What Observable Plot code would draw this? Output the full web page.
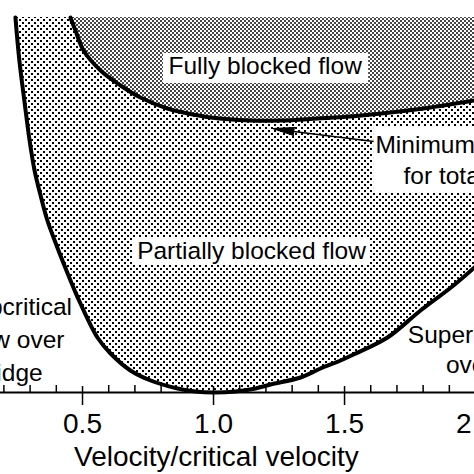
<!DOCTYPE html>
<html><head><meta charset="utf-8">
<script src="https://cdn.jsdelivr.net/npm/d3@7"></script>
<script src="https://cdn.jsdelivr.net/npm/@observablehq/plot@0.6"></script>
<style>html,body{margin:0;padding:0;background:#fff;} svg{display:block;}</style>
</head><body><div id="chart"></div>
<script>
// Lower boundary (onset of partial blocking): velocity ratio vs. height
const lowerX = [0.244, 0.259, 0.278, 0.298, 0.317, 0.340, 0.366, 0.401, 0.431, 0.470, 0.492, 0.557, 0.607, 0.683, 0.760, 0.863, 0.931, 1.000, 1.084, 1.160, 1.218, 1.332, 1.408, 1.485, 1.534, 1.664, 1.790, 1.916, 1.996];
const lowerY = [3.75, 3.32, 2.92, 2.52, 2.22, 1.97, 1.72, 1.47, 1.27, 1.02, 0.89, 0.55, 0.39, 0.22, 0.12, 0.04, 0.01, 0.00, 0.01, 0.04, 0.08, 0.15, 0.24, 0.32, 0.38, 0.55, 0.82, 1.07, 1.25];
// Upper boundary (full blocking)
const upperX = [0.454, 0.473, 0.504, 0.569, 0.645, 0.721, 0.824, 0.885, 0.989, 1.141, 1.256, 1.397, 1.523, 1.676, 1.828, 1.996];
const upperY = [3.75, 3.62, 3.42, 3.22, 3.07, 2.95, 2.84, 2.80, 2.75, 2.72, 2.72, 2.74, 2.76, 2.80, 2.85, 2.92];
const TOP = 3.75;
const majorTicks = [0.5, 1.0, 1.5, 2.0];
const majorLabels = ["0.5", "1.0", "1.5", "2.0"];
const minorTicks = [0.2, 0.3, 0.4, 0.6, 0.7, 0.8, 0.9, 1.1, 1.2, 1.3, 1.4, 1.6, 1.7, 1.8, 1.9];
const xTitle = "Velocity/critical velocity";

const lower = lowerX.map((x, i) => ({x, y: lowerY[i]}));
const upper = upperX.map((x, i) => ({x, y: upperY[i]}));
const majors = majorTicks.map((x, i) => ({x, label: majorLabels[i]}));

const FONT = "'Liberation Sans', Arial, Helvetica, sans-serif";

const svg = Plot.plot({
  width: 474, height: 474,
  marginTop: 0, marginRight: 0, marginBottom: 0, marginLeft: 0,
  style: {background: "#fff", fontFamily: FONT, overflow: "hidden"},
  x: {domain: [0.187, 1.996], axis: null},
  y: {domain: [-0.82, 3.92], axis: null},
  marks: [
    Plot.areaY(lower, {x: "x", y1: "y", y2: TOP, fill: "url(#lightDots)", curve: "catmull-rom"}),
    Plot.areaY(upper, {x: "x", y1: "y", y2: TOP, fill: "url(#denseDots)", curve: "catmull-rom"}),
    Plot.line(lower, {x: "x", y: "y", stroke: "#000", strokeWidth: 4, curve: "catmull-rom"}),
    Plot.line(upper, {x: "x", y: "y", stroke: "#000", strokeWidth: 4, curve: "catmull-rom"}),
    // label boxes
    Plot.rect([{x1: 0.809, x2: 1.592, y1: 3.09, y2: 3.39}], {x1: "x1", x2: "x2", y1: "y1", y2: "y2", fill: "#fff"}),
    Plot.rect([{x1: 0.691, x2: 1.599, y1: 1.27, y2: 1.55}], {x1: "x1", x2: "x2", y1: "y1", y2: "y2", fill: "#fff"}),
    Plot.rect([{x1: 1.611, x2: 2.2, y1: 2.00, y2: 2.65}], {x1: "x1", x2: "x2", y1: "y1", y2: "y2", fill: "#fff"}),
    // arrow
    Plot.link([{x1: 1.611, y1: 2.51, x2: 1.26, y2: 2.625}], {x1: "x1", y1: "y1", x2: "x2", y2: "y2", stroke: "#000", strokeWidth: 1.5}),
    Plot.vector([{x: 1.225, y: 2.64}], {x: "x", y: "y", anchor: "end", shape: "spike", length: 22, r: 4, rotate: -82, fill: "#000", stroke: "#000", strokeWidth: 1}),
    // texts
    Plot.text(["Fully blocked flow"], {x: 1.197, y: 3.19, text: d => d, fontSize: 24.5, textAnchor: "middle", lineAnchor: "bottom", fill: "#000"}),
    Plot.text(["Partially blocked flow"], {x: 1.145, y: 1.34, text: d => d, fontSize: 24.5, textAnchor: "middle", lineAnchor: "bottom", fill: "#000"}),
    Plot.text(["Minimum height"], {x: 1.618, y: 2.40, text: d => d, fontSize: 24.5, textAnchor: "start", lineAnchor: "bottom", fill: "#000"}),
    Plot.text(["for total blocking"], {x: 1.725, y: 2.09, text: d => d, fontSize: 24.5, textAnchor: "start", lineAnchor: "bottom", fill: "#000"}),
    Plot.text(["Subcritical\nflow over\nridge"], {x: 0.244, y: 0.12, text: d => d, fontSize: 24.5, textAnchor: "middle", lineAnchor: "bottom", lineHeight: 1.33, fill: "#000"}),
    Plot.text(["Supercritical flow\nover ridge"], {x: 2.095, y: 0.20, text: d => d, fontSize: 24.5, textAnchor: "middle", lineAnchor: "bottom", lineHeight: 1.22, fill: "#000"}),
    // axis
    Plot.ruleY([0], {stroke: "#000", strokeWidth: 2}),
    Plot.ruleX(minorTicks, {y1: 0, y2: 0.07, stroke: "#000", strokeWidth: 1.5}),
    Plot.ruleX(majorTicks, {y1: 0.06, y2: -0.13, stroke: "#000", strokeWidth: 1.5}),
    Plot.text(majors, {x: "x", y: -0.40, text: "label", fontSize: 28, textAnchor: "middle", lineAnchor: "bottom", fill: "#000"}),
    Plot.text([xTitle], {x: 1.011, y: -0.73, text: d => d, fontSize: 28, textAnchor: "middle", lineAnchor: "bottom", fill: "#000"})
  ]
});

const defs = d3.select(svg).insert("defs", ":first-child");
const light = defs.append("pattern").attr("id", "lightDots").attr("patternUnits", "userSpaceOnUse").attr("width", 6).attr("height", 6);
light.append("rect").attr("width", 6).attr("height", 6).attr("fill", "#fff");
light.append("rect").attr("x", 1).attr("y", 1).attr("width", 2).attr("height", 2).attr("fill", "#000");
light.append("rect").attr("x", 4).attr("y", 4).attr("width", 2).attr("height", 2).attr("fill", "#000");
const dense = defs.append("pattern").attr("id", "denseDots").attr("patternUnits", "userSpaceOnUse").attr("width", 4).attr("height", 4);
dense.append("rect").attr("width", 4).attr("height", 4).attr("fill", "#fff");
dense.append("rect").attr("x", 0.15).attr("y", 0.15).attr("width", 1.7).attr("height", 1.7).attr("fill", "#000");
dense.append("rect").attr("x", 2.15).attr("y", 2.15).attr("width", 1.7).attr("height", 1.7).attr("fill", "#000");

document.getElementById("chart").appendChild(svg);
</script>
</body></html>
